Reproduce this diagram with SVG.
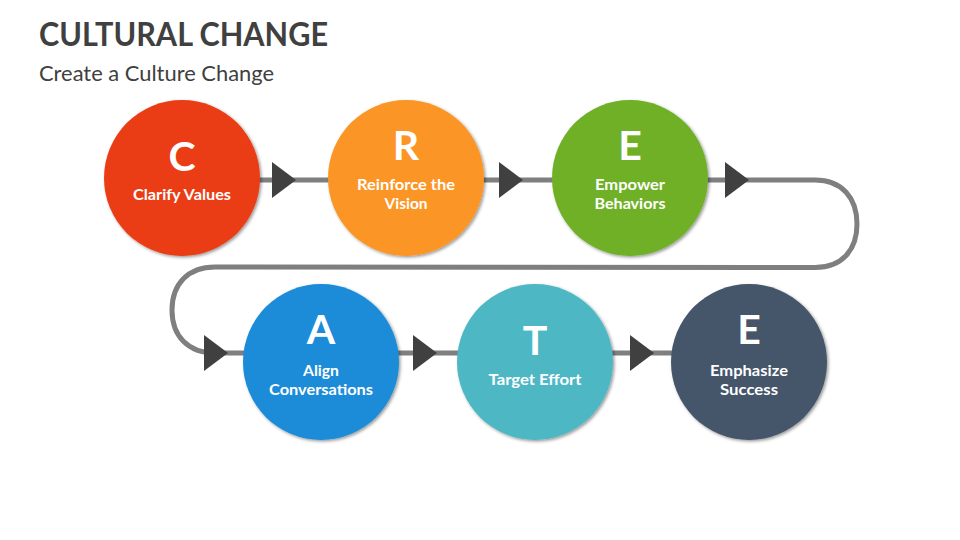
<svg xmlns="http://www.w3.org/2000/svg" width="960" height="540" viewBox="0 0 960 540">
<style>
text{font-family:Lato,"Open Sans","Liberation Sans",sans-serif}
.l{font-size:41px;font-weight:700;fill:#fff;text-anchor:middle}
.t{font-size:15.5px;font-weight:700;fill:#fff;text-anchor:middle}
.c{stroke:none;filter:url(#s)}
.a{fill:#404040}
</style>
<defs>
<filter id="s" x="-10%" y="-10%" width="125%" height="125%"><feDropShadow dx="1.500" dy="1.500" stdDeviation="1.500" flood-color="#000" flood-opacity=".4"/></filter>
</defs>
<rect width="960" height="540" fill="#fff"/>
<text x="39" y="46" font-size="33" font-weight="700" fill="#404040" textLength="289" lengthAdjust="spacingAndGlyphs">CULTURAL CHANGE</text>
<text x="39" y="81" font-size="21" fill="#404040" textLength="235" lengthAdjust="spacingAndGlyphs">Create a Culture Change</text>
<g id="connectors">
<path d="M255 180H815C842 180 857 198 857 224C857 250 842 267.500 815 267.500L215 267C188 267 172 284 172 310C172 336 188 353 215 353H680" fill="none" stroke="#7f7f7f" stroke-width="5"/>
<polygon class="a" points="272,162 296,180 272,198"/>
<polygon class="a" points="499,162 523,180 499,198"/>
<polygon class="a" points="725,162 749,180 725,198"/>
<polygon class="a" points="204,335 228,353 204,371"/>
<polygon class="a" points="413,335 437,353 413,371"/>
<polygon class="a" points="630,335 654,353 630,371"/>
</g>
<g id="node-c"><circle class="c" cx="182" cy="178" r="78" fill="#ea3e14"/><text class="l" x="182" y="171">C</text><text class="t" x="182" y="200" textLength="98" lengthAdjust="spacingAndGlyphs">Clarify Values</text></g>
<g id="node-r"><circle class="c" cx="406" cy="178" r="78" fill="#fb9625"/><text class="l" x="406" y="160">R</text><text class="t" x="406" y="190" textLength="98" lengthAdjust="spacingAndGlyphs">Reinforce the</text><text class="t" x="406" y="209" textLength="43" lengthAdjust="spacingAndGlyphs">Vision</text></g>
<g id="node-e1"><circle class="c" cx="630" cy="178" r="78" fill="#6fb028"/><text class="l" x="630" y="160">E</text><text class="t" x="630" y="190" textLength="70" lengthAdjust="spacingAndGlyphs">Empower</text><text class="t" x="630" y="209" textLength="71" lengthAdjust="spacingAndGlyphs">Behaviors</text></g>
<g id="node-a"><circle class="c" cx="321" cy="362" r="78" fill="#1a8cd8"/><text class="l" x="321" y="344">A</text><text class="t" x="321" y="376" textLength="36" lengthAdjust="spacingAndGlyphs">Align</text><text class="t" x="321" y="395" textLength="104" lengthAdjust="spacingAndGlyphs">Conversations</text></g>
<g id="node-t"><circle class="c" cx="535" cy="362" r="78" fill="#4db8c4"/><text class="l" x="535" y="355">T</text><text class="t" x="535" y="385" textLength="93" lengthAdjust="spacingAndGlyphs">Target Effort</text></g>
<g id="node-e2"><circle class="c" cx="749" cy="362" r="78" fill="#44546a"/><text class="l" x="749" y="344">E</text><text class="t" x="749" y="376" textLength="78" lengthAdjust="spacingAndGlyphs">Emphasize</text><text class="t" x="749" y="395" textLength="58" lengthAdjust="spacingAndGlyphs">Success</text></g>
</svg>
